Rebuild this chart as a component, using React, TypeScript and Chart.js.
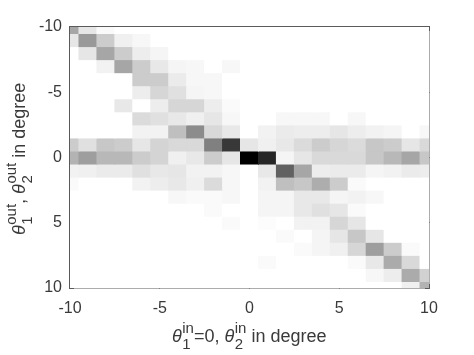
import React, { useEffect, useRef } from "react";
import { Chart, registerables } from "chart.js";

Chart.register(...registerables);

const columns = [-10, -9, -8, -7, -6, -5, -4, -3, -2, -1, 0, 1, 2, 3, 4, 5, 6, 7, 8, 9, 10];
const rowLabels = [-10, -9, -8, -7, -6, -5, -4, -3, -2, -1, 0, 1, 2, 3, 4, 5, 6, 7, 8, 9, 10];
const tickValues = [-10, -5, 0, 5, 10];

const rowM10 = [0.35, 0.1, 0.02, 0, 0, 0, 0, 0, 0, 0, 0, 0, 0, 0, 0, 0, 0, 0, 0, 0, 0];
const rowM9 = [0.1, 0.4, 0.2, 0.06, 0.03, 0, 0, 0, 0, 0, 0, 0, 0, 0, 0, 0, 0, 0, 0, 0, 0];
const rowM8 = [0, 0.1, 0.35, 0.2, 0.07, 0.04, 0, 0, 0, 0, 0, 0, 0, 0, 0, 0, 0, 0, 0, 0, 0];
const rowM7 = [0, 0, 0.05, 0.35, 0.2, 0.09, 0.04, 0.03, 0, 0.03, 0, 0, 0, 0, 0, 0, 0, 0, 0, 0, 0];
const rowM6 = [0, 0, 0, 0, 0.2, 0.2, 0.08, 0.03, 0.03, 0, 0, 0, 0, 0, 0, 0, 0, 0, 0, 0, 0];
const rowM5 = [0, 0, 0, 0, 0.07, 0.16, 0.12, 0.04, 0.03, 0, 0, 0, 0, 0, 0, 0, 0, 0, 0, 0, 0];
const rowM4 = [0, 0, 0, 0.09, 0, 0.07, 0.16, 0.16, 0.07, 0.02, 0, 0, 0, 0, 0, 0, 0, 0, 0, 0, 0];
const rowM3 = [0, 0, 0, 0, 0.14, 0.12, 0.09, 0.06, 0.1, 0.03, 0, 0, 0.03, 0.03, 0.03, 0, 0.03, 0, 0, 0, 0];
const rowM2 = [0, 0, 0, 0, 0.05, 0.05, 0.25, 0.45, 0.15, 0.09, 0, 0.05, 0.08, 0.07, 0.07, 0.1, 0.07, 0.05, 0.04, 0, 0.03];
const rowM1 = [0.2, 0.12, 0.22, 0.2, 0.1, 0.17, 0.15, 0.15, 0.5, 0.78, 0.1, 0.06, 0.09, 0.14, 0.2, 0.16, 0.14, 0.22, 0.2, 0.1, 0.15];
const row0 = [0.3, 0.38, 0.28, 0.28, 0.2, 0.17, 0.06, 0.09, 0.2, 0.1, 1, 0.85, 0.04, 0.1, 0.15, 0.15, 0.15, 0.22, 0.28, 0.35, 0.22];
const row1 = [0.05, 0.06, 0.08, 0.08, 0.12, 0.09, 0.1, 0.05, 0.05, 0.03, 0, 0.09, 0.62, 0.35, 0.07, 0.08, 0.08, 0.04, 0.05, 0.08, 0.07];
const row2 = [0.02, 0, 0, 0, 0.05, 0.07, 0.09, 0.06, 0.14, 0.03, 0, 0.05, 0.25, 0.22, 0.32, 0.2, 0.02, 0, 0, 0, 0];
const row3 = [0, 0, 0, 0, 0, 0, 0.03, 0.02, 0.02, 0.03, 0, 0.04, 0.04, 0.09, 0.09, 0.04, 0.05, 0.03, 0, 0, 0];
const row4 = [0, 0, 0, 0, 0, 0, 0, 0, 0.02, 0, 0, 0.04, 0.04, 0.09, 0.12, 0.1, 0.02, 0, 0, 0, 0];
const row5 = [0, 0, 0, 0, 0, 0, 0, 0, 0, 0.02, 0, 0.01, 0, 0.05, 0.05, 0.16, 0.1, 0, 0, 0, 0];
const row6 = [0, 0, 0, 0, 0, 0, 0, 0, 0, 0, 0, 0, 0.02, 0, 0.04, 0.1, 0.22, 0.1, 0, 0, 0];
const row7 = [0, 0, 0, 0, 0, 0, 0, 0, 0, 0, 0, 0, 0, 0.02, 0.04, 0.06, 0.16, 0.38, 0.2, 0.02, 0];
const row8 = [0, 0, 0, 0, 0, 0, 0, 0, 0, 0, 0, 0.02, 0, 0, 0, 0, 0.02, 0.09, 0.33, 0.15, 0];
const row9 = [0, 0, 0, 0, 0, 0, 0, 0, 0, 0, 0, 0, 0, 0, 0, 0, 0, 0.03, 0.07, 0.33, 0.18];
const row10 = [0, 0, 0, 0, 0, 0, 0, 0, 0, 0, 0, 0, 0, 0, 0, 0, 0, 0, 0, 0.06, 0.3];

const rows = [rowM10, rowM9, rowM8, rowM7, rowM6, rowM5, rowM4, rowM3, rowM2, rowM1, row0,
  row1, row2, row3, row4, row5, row6, row7, row8, row9, row10];

const FONT = "'Liberation Sans', Arial, sans-serif";
const TEXT = "#3a3a3a";
const AXIS = "#5a5a5a";

type Run = { main?: string; sup?: string; sub?: string };
const xTitle: Run[] = [
  { main: "θ", sup: "in", sub: "1" },
  { main: "=0, " },
  { main: "θ", sup: "in", sub: "2" },
  { main: " in degree" },
];
const yTitle: Run[] = [
  { main: "θ", sup: "out", sub: "1" },
  { main: ", " },
  { main: "θ", sup: "out", sub: "2" },
  { main: " in degree" },
];

function drawRuns(ctx: CanvasRenderingContext2D, runs: Run[]) {
  let x = 0;
  ctx.textAlign = "left";
  ctx.textBaseline = "alphabetic";
  for (const r of runs) {
    if (r.sup) {
      ctx.font = `italic 18px ${FONT}`;
      ctx.fillText(r.main as string, x, 0);
      x += ctx.measureText(r.main as string).width + 0.5;
      ctx.font = `15px ${FONT}`;
      ctx.fillText(r.sup, x, -9);
      ctx.fillText(r.sub as string, x, 7);
      x += Math.max(ctx.measureText(r.sup).width, ctx.measureText(r.sub as string).width);
    } else {
      ctx.font = `18px ${FONT}`;
      ctx.fillText(r.main as string, x, 0);
      x += ctx.measureText(r.main as string).width;
    }
  }
}

const titlesPlugin = {
  id: "axisTitles",
  afterDraw(chart: any) {
    const ctx = chart.ctx as CanvasRenderingContext2D;
    ctx.save();
    ctx.fillStyle = TEXT;
    ctx.save();
    ctx.translate(172, 342);
    drawRuns(ctx, xTitle);
    ctx.restore();
    ctx.save();
    ctx.translate(25, 235);
    ctx.rotate(-Math.PI / 2);
    drawRuns(ctx, yTitle);
    ctx.restore();
    ctx.restore();
  },
};

const gray = (v: number) => {
  const g = Math.round(255 * (1 - v));
  return `rgb(${g},${g},${g})`;
};

export default function App() {
  const ref = useRef<HTMLCanvasElement>(null);
  useEffect(() => {
    document.body.style.margin = "0";
    const datasets = rows.map((vals, i) => ({
      label: `row ${rowLabels[i]}`,
      grouped: false,
      barPercentage: 1,
      categoryPercentage: 1,
      borderWidth: 0,
      inflateAmount: 0.5,
      data: columns.map((c) => ({ x: c, y: [rowLabels[i] - 0.5, rowLabels[i] + 0.5] })),
      backgroundColor: vals.map(gray),
    }));
    const tickOpts = { color: TEXT, font: { size: 16, family: FONT } };
    const setTicks = (s: any) => {
      s.ticks = tickValues.map((value) => ({ value }));
    };
    const grid = { drawOnChartArea: false, tickLength: -4, color: AXIS, tickWidth: 1, offset: false };
    const border = { display: true, color: AXIS, width: 1.5 };
    const chart = new Chart(ref.current as HTMLCanvasElement, {
      type: "bar",
      data: { datasets: datasets as any },
      options: {
        animation: false,
        responsive: false,
        layout: { padding: { left: 0, right: 45, top: 27, bottom: 0 } },
        plugins: { legend: { display: false }, title: { display: false }, tooltip: { enabled: false } },
        scales: {
          x: {
            type: "linear", position: "bottom", min: -10, max: 10, offset: false,
            grid, border,
            ticks: { ...tickOpts, padding: 15, maxRotation: 0 },
            afterBuildTicks: setTicks,
            afterFit: (s: any) => { s.height = 67; },
          },
          y: {
            type: "linear", position: "left", min: -10, max: 10, reverse: true,
            grid, border,
            ticks: { ...tickOpts, padding: 12 },
            afterBuildTicks: setTicks,
            afterFit: (s: any) => { s.width = 70; },
          },
          xTop: {
            type: "linear", position: "top", min: -10, max: 10, offset: false,
            grid, border,
            ticks: { display: false },
            afterBuildTicks: setTicks,
            afterFit: (s: any) => { s.height = 0; },
          },
          yRight: {
            type: "linear", position: "right", min: -10, max: 10, reverse: true,
            grid, border,
            ticks: { display: false },
            afterBuildTicks: setTicks,
            afterFit: (s: any) => { s.width = 0; },
          },
        },
      } as any,
      plugins: [titlesPlugin],
    });
    return () => chart.destroy();
  }, []);
  return (
    <div style={{ position: "fixed", left: 0, top: 0, width: 474, height: 355, background: "#fff" }}>
      <canvas ref={ref} width={474} height={355} style={{ display: "block" }} />
    </div>
  );
}
